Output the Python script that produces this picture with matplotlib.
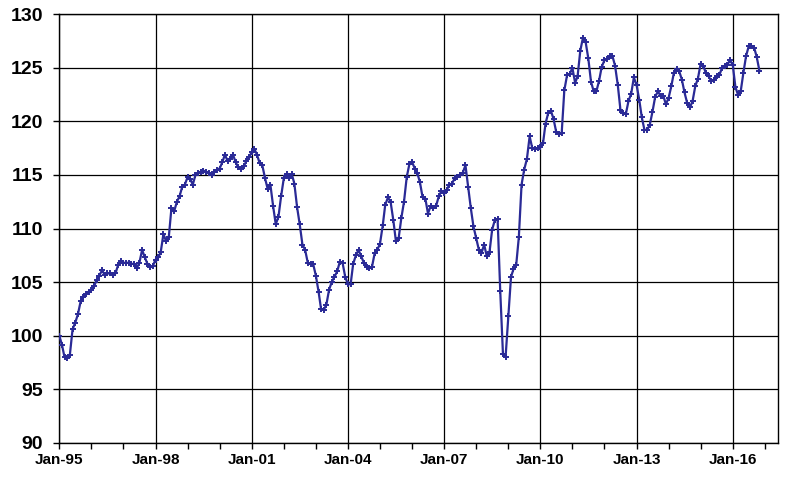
import numpy as np
import pandas as pd
import matplotlib
matplotlib.use("Agg")
import matplotlib.pyplot as plt
import matplotlib.dates as mdates

# monthly index values, Jan-95 .. Nov-16
y1995 = [100.0, 99.1, 98.0, 97.9, 98.2, 100.6, 101.2, 102.0, 103.2, 103.6, 103.9, 104.1]
y1996 = [104.3, 104.6, 105.2, 105.6, 106.1, 105.7, 105.8, 105.8, 105.7, 105.8, 106.6, 107.0]
y1997 = [106.8, 106.8, 106.8, 106.7, 106.7, 106.3, 106.8, 108.0, 107.3, 106.7, 106.4, 106.5]
y1998 = [107.1, 107.3, 107.8, 109.5, 108.8, 109.2, 111.9, 111.6, 112.5, 113.0, 113.9, 114.1]
y1999 = [114.8, 114.6, 114.1, 115.0, 115.2, 115.3, 115.4, 115.3, 115.2, 115.0, 115.3, 115.5]
y2000 = [115.6, 116.2, 116.9, 116.3, 116.5, 116.9, 116.2, 115.7, 115.6, 115.8, 116.3, 116.7]
y2001 = [117.1, 117.4, 116.9, 116.1, 115.9, 114.7, 113.7, 114.1, 112.1, 110.4, 111.1, 113.0]
y2002 = [114.7, 115.1, 114.7, 115.1, 114.2, 112.0, 110.4, 108.5, 108.0, 106.8, 106.7, 106.7]
y2003 = [105.6, 104.1, 102.5, 102.4, 102.9, 104.3, 105.0, 105.5, 106.0, 106.9, 106.8, 105.5]
y2004 = [104.8, 104.8, 106.7, 107.5, 108.0, 107.4, 106.8, 106.4, 106.3, 106.4, 107.7, 108.0]
y2005 = [108.6, 110.3, 112.2, 112.9, 112.5, 110.8, 108.8, 109.1, 111.0, 112.5, 114.8, 116.0]
y2006 = [116.2, 115.6, 115.2, 114.3, 112.9, 112.8, 111.4, 112.1, 111.9, 112.1, 113.0, 113.5]
y2007 = [113.3, 113.6, 114.1, 114.2, 114.7, 114.8, 115.0, 115.2, 115.9, 113.9, 111.9, 110.2]
y2008 = [109.1, 108.0, 107.7, 108.5, 107.4, 107.8, 109.9, 110.8, 110.9, 104.2, 98.3, 98.0]
y2009 = [101.8, 105.5, 106.2, 106.6, 109.2, 114.1, 115.5, 116.5, 118.6, 117.5, 117.4, 117.5]
y2010 = [117.6, 118.0, 119.8, 120.8, 121.0, 120.2, 119.0, 118.8, 118.9, 122.9, 124.3, 124.4]
y2011 = [125.0, 123.6, 124.2, 126.6, 127.8, 127.4, 125.9, 123.7, 122.8, 122.8, 123.8, 125.1]
y2012 = [125.7, 125.8, 126.1, 126.1, 125.2, 123.4, 121.1, 120.8, 120.7, 121.9, 122.6, 124.1]
y2013 = [123.4, 122.0, 120.4, 119.2, 119.2, 119.7, 120.9, 122.3, 122.8, 122.4, 122.4, 121.6]
y2014 = [122.2, 123.3, 124.5, 124.9, 124.7, 123.9, 122.7, 121.7, 121.3, 121.9, 123.3, 124.0]
y2015 = [125.4, 125.2, 124.5, 124.2, 123.8, 123.9, 124.2, 124.3, 125.0, 125.2, 125.3, 125.7]
y2016 = [125.3, 123.2, 122.5, 122.8, 124.5, 126.1, 127.0, 127.0, 126.9, 126.0, 124.7]

values = (y1995 + y1996 + y1997 + y1998 + y1999 + y2000 + y2001 + y2002
          + y2003 + y2004 + y2005 + y2006 + y2007 + y2008 + y2009 + y2010
          + y2011 + y2012 + y2013 + y2014 + y2015 + y2016)
dates = pd.date_range("1995-01-01", periods=len(values), freq="MS")

xtick_years = [1995, 1998, 2001, 2004, 2007, 2010, 2013, 2016]
xtick_labels = ["Jan-95", "Jan-98", "Jan-01", "Jan-04", "Jan-07", "Jan-10", "Jan-13", "Jan-16"]
yticks = [90, 95, 100, 105, 110, 115, 120, 125, 130]

plt.rcParams['font.family'] = ['Liberation Sans', 'DejaVu Sans']

fig = plt.figure(figsize=(7.92, 4.88), dpi=100)
ax = fig.add_axes([0.0749, 0.0928, 0.9071, 0.8779])

ax.plot(dates, values, color="#2a2a96", lw=1.6, marker="+",
        markersize=4.5, markeredgewidth=1.4, zorder=3)

ax.set_ylim(90, 130)
ax.set_xlim(pd.Timestamp("1995-01-01"), pd.Timestamp("2017-05-28"))

ax.set_yticks(yticks)
ax.set_yticklabels([str(v) for v in yticks], fontsize=14, fontweight="bold")
ax.set_xticks([pd.Timestamp(f"{y}-01-01") for y in xtick_years])
ax.set_xticklabels(xtick_labels, fontsize=11, fontweight="bold")
ax.xaxis.set_minor_locator(mdates.YearLocator(1))

ax.tick_params(axis="both", which="both", direction="out", length=4.5,
               width=1.0, color="black")
ax.tick_params(axis="y", pad=7)
ax.tick_params(axis="x", pad=3)

ax.grid(True, which="major", color="black", lw=0.9)
for sp in ax.spines.values():
    sp.set_color("black")
    sp.set_linewidth(1.0)

fig.savefig("out.png", dpi=100)
